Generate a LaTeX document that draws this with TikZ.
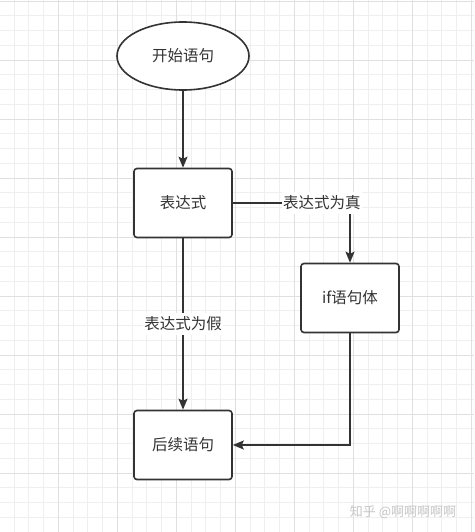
\documentclass[tikz,border=0pt]{standalone}
\usepackage{fontspec}
\newfontfamily\cjk{Noto Sans CJK SC}
\usetikzlibrary{shapes.geometric,arrows.meta}
\definecolor{ink}{HTML}{333333}
\definecolor{gridminor}{HTML}{EFEFEF}
\definecolor{gridmajor}{HTML}{E0E0E0}
\begin{document}
\begin{tikzpicture}[x=1pt,y=-1pt,
		every node/.style={font=\cjk\fontsize{15.5}{18}\selectfont, text=ink},
		stmt/.style={draw=ink, line width=1.6pt, rounded corners=3pt, fill=white,
			minimum width=98pt, minimum height=69pt},
		startnode/.style={draw=ink, line width=1.6pt, ellipse, fill=white,
			minimum width=132pt, minimum height=68pt},
		lbl/.style={fill=white, inner sep=1pt, minimum height=22pt},
		flow/.style={draw=ink, line width=1.5pt, -{Stealth[length=11pt,width=9pt,inset=2pt]}}]
	\useasboundingbox (0,0) rectangle (474,532);
	\fill[white] (0,0) rectangle (474,532);
	% grid
	\foreach \i in {0,...,32}
		\draw[gridminor, line width=0.8pt] (-0.7+14.75*\i,0) -- (-0.7+14.75*\i,532);
	\foreach \j in {0,...,36}
		\draw[gridminor, line width=0.8pt] (0,1+14.75*\j) -- (474,1+14.75*\j);
	\foreach \i in {0,...,8}
		\draw[gridmajor, line width=0.9pt] (-0.7+59*\i,0) -- (-0.7+59*\i,532);
	\foreach \j in {0,...,9}
		\draw[gridmajor, line width=0.9pt] (0,1+59*\j) -- (474,1+59*\j);
	% statements
	\node[startnode] (start) at (183,56) {开始语句};
	\node[stmt] (expr) at (183,203) {表达式};
	\node[stmt] (ifbody) at (350,298) {if语句体};
	\node[stmt] (after) at (183,445) {后续语句};
	% flow
	\draw[flow] (start) -- (expr);
	\draw[flow] (expr.east) -| node[lbl, pos=0.38] (ltrue) {表达式为真} (ifbody.north);
	\draw[flow] (expr) -- node[lbl] (lfalse) {表达式为假} (after);
	\draw[flow] (ifbody.south) |- (after.east);
	% watermark
	\node[text=gray!45, font=\cjk\fontsize{13}{15}\selectfont] (mark) at (403,512) {知乎 @啊啊啊啊啊};
\end{tikzpicture}
\end{document}
